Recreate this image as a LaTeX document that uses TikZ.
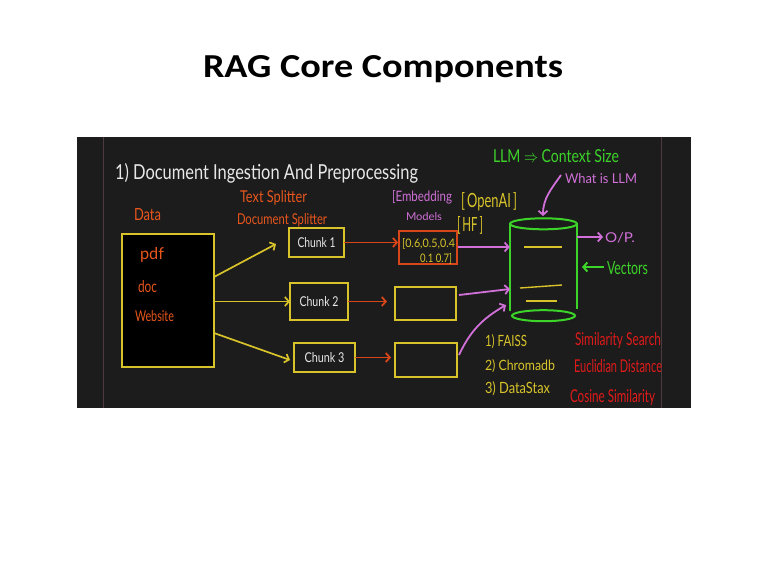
\documentclass[tikz,border=0pt]{standalone}
\usepackage{fontspec}
\setmainfont{Carlito}
\newfontfamily\hwfont{Lato}
\usetikzlibrary{arrows.meta}
\definecolor{panel}{HTML}{1C1C1C}
\definecolor{vline}{HTML}{4D3B40}
\definecolor{hwwhite}{HTML}{E8E8E8}
\definecolor{hworange}{HTML}{E8561C}
\definecolor{hwyellow}{HTML}{D8C42A}
\definecolor{hwgreen}{HTML}{3DD42A}
\definecolor{hwpink}{HTML}{D070D8}
\definecolor{hwred}{HTML}{E01A1A}
\definecolor{arrorange}{HTML}{D8461A}
\newcommand\hw[3]{\resizebox{#1pt}{#2pt}{\hwfont #3}}
\begin{document}
\begin{tikzpicture}[x=1pt,y=-1pt,
  txt/.style={anchor=base west, inner sep=0pt, outer sep=0pt},
  box/.style={draw=hwyellow, line width=1.8pt, inner sep=0pt, outer sep=0pt},
  tipb/.style={-{Straight Barb[length=4pt,width=9pt]}},
  yarr/.style={tipb, draw=hwyellow, line width=1.7pt},
  oarr/.style={tipb, draw=arrorange, line width=1.8pt},
  parr/.style={tipb, draw=hwpink, line width=1.8pt},
  garr/.style={tipb, draw=hwgreen, line width=2pt}]
\useasboundingbox (0,0) rectangle (768,576);
\fill[white] (0,0) rectangle (768,576);
% title
\node[inner sep=0pt, anchor=base] (title) at (383,77)
  {\resizebox{360pt}{22pt}{\bfseries RAG Core Components}};
% panel
\fill[panel] (77,137) rectangle (691,408);
\draw[vline, line width=1pt] (103.5,137) -- (103.5,408);
\draw[vline, line width=1pt] (661.5,137) -- (661.5,408);
% headings
\node[txt, text=hwwhite] (head) at (115,179) {\hw{303}{16}{1) Document Ingestion And Preprocessing}};
\node[txt, text=hworange] (tsplit) at (240,202) {\hw{67}{12}{Text Splitter}};
\node[txt, text=hworange] (dsplit) at (237,224) {\hw{90}{11}{Document Splitter}};
\node[txt, text=hworange] (datal) at (134,220) {\hw{27}{12}{Data}};
% data box
\node[box, fill=black, minimum width=92pt, minimum height=133pt] (data) at (168,300.5) {};
\node[txt, text=hworange] (pdf) at (140,259) {\hw{24}{12}{pdf}};
\node[txt, text=hworange] (doc) at (138,292) {\hw{19}{12}{doc}};
\node[txt, text=hworange] (web) at (135,321) {\hw{39}{11}{Website}};
% chunks
\node[box, minimum width=55pt, minimum height=29pt, text=hwwhite] (c1) at (316.5,242.5) {\hw{38}{10}{Chunk 1}};
\node[box, minimum width=58pt, minimum height=37pt, text=hwwhite] (c2) at (319,301.5) {\hw{39}{10}{Chunk 2}};
\node[box, minimum width=61pt, minimum height=29pt, text=hwwhite] (c3) at (324.5,357.5) {\hw{40}{10}{Chunk 3}};
% embedding boxes
\node[draw=arrorange, line width=1.8pt, inner sep=0pt, minimum width=58pt, minimum height=33pt] (e1) at (428,247.5) {};
\node[txt, text=hwyellow] (v1) at (402,247) {\hw{53}{9}{[0.6,0.5,0.4}};
\node[txt, text=hwyellow] (v2) at (420,262) {\hw{32}{9}{0.1 0.7]}};
\node[box, minimum width=61pt, minimum height=33pt] (e2) at (425.5,303.5) {};
\node[box, minimum width=62pt, minimum height=34pt] (e3) at (426,360) {};
\node[txt, text=hwpink] (emb) at (392,201) {\hw{60}{11}{[Embedding}};
\node[txt, text=hwpink] (models) at (406,220) {\hw{36}{8}{Models}};
\node[txt, text=hwyellow] (openai) at (461,207) {\hw{56}{15}{[\,OpenAI\,]}};
\node[txt, text=hwyellow] (hf) at (457,231) {\hw{26}{15}{[\,HF\,]}};
% vector db cylinder
\node[inner sep=0pt, minimum width=67pt, minimum height=91pt] (db) at (543.5,269.5) {};
\draw[hwgreen, line width=2pt] (db.north) ellipse [x radius=33.5pt, y radius=5.5pt];
\draw[hwgreen, line width=2pt] (db.north west) -- ([yshift=4pt]db.south west);
\draw[hwgreen, line width=2pt] (db.north east) -- ([yshift=6pt]db.south east);
\draw[hwgreen, line width=2pt] ([yshift=-0.5pt]db.south) ellipse [x radius=31.5pt, y radius=5.5pt];
\coordinate (l1a) at (524,247); \coordinate (l1b) at (562,247);
\coordinate (l2a) at (520,288); \coordinate (l2b) at (562,285);
\coordinate (l3a) at (526,301); \coordinate (l3b) at (557,301);
\draw[hwyellow, line width=1.4pt] (l1a) -- (l1b);
\draw[hwyellow, line width=1.4pt] (l2a) -- (l2b);
\draw[hwyellow, line width=1.4pt] (l3a) -- (l3b);
% labels around db
\node[txt, text=hwgreen] (ctx) at (493,162) {\hw{126}{13}{LLM $\Rightarrow$ Context Size}};
\node[txt, text=hwpink] (what) at (565,183) {\hw{72}{10}{What is LLM}};
\node[txt, text=hwpink] (op) at (605,242) {\hw{30}{10}{O/P.}};
\node[txt, text=hwgreen] (vec) at (607,274) {\hw{41}{13}{Vectors}};
\node[txt, text=hwyellow] (faiss) at (485,346) {\hw{42}{12}{1) FAISS}};
\node[txt, text=hwyellow] (chroma) at (485,370) {\hw{70}{11}{2) Chromadb}};
\node[txt, text=hwyellow] (dstax) at (485,393) {\hw{65}{12}{3) DataStax}};
\node[txt, text=hwred] (sim) at (575,345) {\hw{86}{13}{Similarity Search}};
\node[txt, text=hwred] (euc) at (574,372) {\hw{88}{13}{Euclidian Distance}};
\node[txt, text=hwred] (cos) at (570,402) {\hw{85}{13}{Cosine Similarity}};
% yellow arrows from data
\coordinate (d1) at (214,277); \coordinate (t1) at (276,244);
\coordinate (d3) at (214,333); \coordinate (t3) at (290,360);
\draw[yarr] (d1) -- (t1);
\draw[yarr] (data.east |- c2) -- (c2.west);
\draw[yarr] (d3) -- (t3);
% orange arrows
\draw[oarr] (c1.east) -- (c1.east -| e1.west);
\draw[oarr, shorten >=8pt] (c2.east) -- (c2.east -| e2.west);
\draw[oarr, shorten >=4pt] (c3.east) -- (c3.east -| e3.west);
% pink arrows
\coordinate (m2s) at (459,295); \coordinate (m2e) at (510,289);
\coordinate (m3s) at (459,355); \coordinate (m3e) at (506,305);
\draw[parr] (e1.east |- l1a) -- (db.west |- l1a);
\draw[parr] (m2s) -- (m2e);
\draw[parr] (m3s) to[out=65, in=210] (m3e);
\coordinate (w1) at (561,175); \coordinate (w2) at (543,216);
\draw[parr] (w1) to[out=235, in=90] (w2);
\coordinate (o1) at (577,237); \coordinate (o2) at (603,237);
\draw[parr] (o1) -- (o2);
\coordinate (g1) at (604,267); \coordinate (g2) at (582,267);
\draw[garr] (g1) -- (g2);
\end{tikzpicture}
\end{document}
